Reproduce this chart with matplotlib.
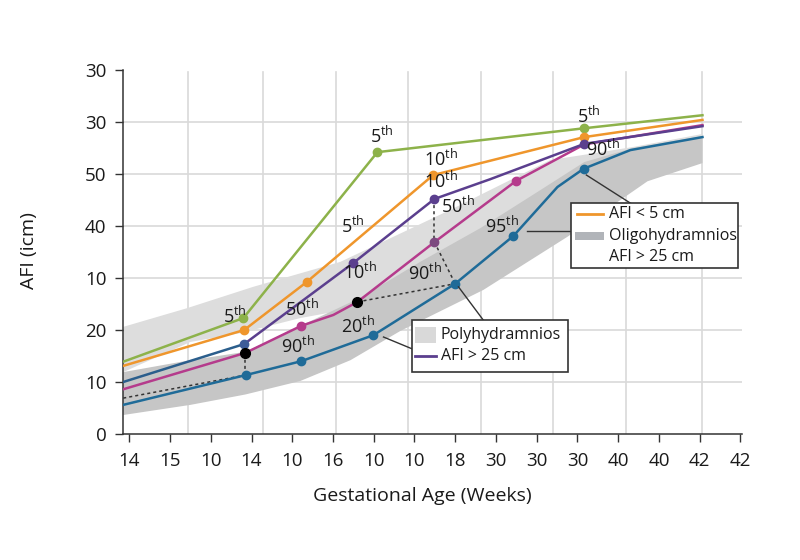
import matplotlib
matplotlib.use("Agg")
import matplotlib.pyplot as plt
from matplotlib.patches import Rectangle
import numpy as np

plt.rcParams['font.family'] = ['Open Sans', 'DejaVu Sans']
plt.rcParams['mathtext.fontset'] = 'custom'
plt.rcParams['mathtext.rm'] = 'Open Sans'
plt.rcParams['mathtext.it'] = 'Open Sans'

# ---------------- data ----------------
x_tick_labels = ["14", "15", "10", "14", "10", "16", "10", "10", "18",
                 "30", "30", "30", "40", "40", "42", "42"]
y_tick_labels = ["0", "10", "20", "10", "40", "50", "30", "30"]

green_x = [-0.15, 2.80, 6.09, 11.17, 14.07]
green_y = [13.9, 22.3, 54.2, 58.8, 61.3]

orange_x = [-0.15, 2.82, 4.35, 7.46, 11.17, 14.07]
orange_y = [13.1, 20.0, 29.2, 49.8, 57.1, 60.4]

upper_blue_x = [-0.15, 2.82]
upper_blue_y = [10.0, 17.3]

purple_x = [2.82, 5.50, 7.49, 8.86, 11.17, 14.07]
purple_y = [17.3, 32.9, 45.2, 49.0, 55.8, 59.2]

magenta_x = [-0.15, 2.85, 4.22, 5.01, 5.60, 7.49, 9.50, 11.17, 14.07]
magenta_y = [8.6, 15.6, 20.8, 22.9, 25.4, 36.9, 48.7, 55.7, 59.4]

blue_x = [-0.15, 2.87, 4.22, 5.99, 8.00, 9.43, 10.51, 11.15, 12.30, 14.07]
blue_y = [5.6, 11.35, 14.0, 19.0, 28.9, 38.1, 47.5, 51.0, 54.6, 57.1]

# band edges (polyhydramnios light band / oligohydramnios darker band)
poly_upper_x = [-0.15, 1.42, 3.04, 5.18, 7.88, 10.34, 11.17, 12.37, 14.07]
poly_upper_y = [20.6, 24.2, 28.3, 33.1, 43.1, 52.7, 53.7, 55.2, 57.7]
poly_lower_x = [-0.15, 1.50, 2.73, 4.20, 6.65, 9.11, 11.56, 14.07]
poly_lower_y = [11.9, 17.7, 19.4, 22.3, 25.8, 35.4, 47.9, 54.6]

oligo_upper_x = [-0.15, 1.50, 2.85, 4.20, 5.67, 7.14, 8.62, 10.09, 11.17, 12.37, 14.07]
oligo_upper_y = [11.9, 14.2, 15.8, 20.8, 26.2, 33.1, 39.6, 46.9, 52.3, 55.0, 57.3]
oligo_lower_x = [-0.15, 1.50, 2.85, 4.20, 5.43, 6.65, 8.69, 10.75, 12.72, 14.07]
oligo_lower_y = [3.65, 5.6, 7.6, 10.2, 14.2, 19.8, 27.7, 37.9, 48.6, 52.1]

# ---------------- figure ----------------
fig = plt.figure(figsize=(8, 5.6), dpi=100)
ax = fig.add_axes([0.154, 0.225, 0.774, 0.65])
ax.set_xlim(-0.15, 15.05)
ax.set_ylim(0, 70)

GREEN = '#8db24a'
ORANGE = '#ef962c'
PURPLE = '#5b3f8e'
MAGENTA = '#b53b8c'
BLUE = '#1f6b98'
UBLUE = '#2b5e8c'
LIGHT = '#dddddd'
DARK = '#c6c6c6'
GRID = '#d9d9d9'

# grid
for yv in range(10, 70, 10):
    ax.axhline(yv, color=GRID, lw=1.2, zorder=0)
for xv in [1.45, 3.27, 5.08, 6.83, 8.64, 10.41, 12.20, 14.07]:
    ax.plot([xv, xv], [0, 69.6], color=GRID, lw=1.2, zorder=0)

# bands
ax.fill(np.concatenate([poly_upper_x, poly_lower_x[::-1]]),
        np.concatenate([poly_upper_y, poly_lower_y[::-1]]),
        color=LIGHT, lw=0, zorder=1)
ax.fill(np.concatenate([oligo_upper_x, oligo_lower_x[::-1]]),
        np.concatenate([oligo_upper_y, oligo_lower_y[::-1]]),
        color=DARK, lw=0, zorder=1)

# dotted connectors
dot_kw = dict(color='#333333', lw=1.1, ls=(0, (2, 2)), zorder=2)
ax.plot([blue_x[0], blue_x[1]], [6.9, blue_y[1]], **dot_kw)
ax.plot([magenta_x[1], magenta_x[1]], [blue_y[1], magenta_y[1]], **dot_kw)
ax.plot([magenta_x[4], blue_x[4]], [magenta_y[4], blue_y[4]], **dot_kw)
ax.plot([purple_x[2], magenta_x[5]], [purple_y[2], magenta_y[5]], **dot_kw)
ax.plot([magenta_x[5], blue_x[4]], [magenta_y[5], blue_y[4]], **dot_kw)

lw = 1.8
ms = 6
ax.plot(green_x, green_y, color=GREEN, lw=lw, zorder=3)
ax.plot(green_x[1:4], green_y[1:4], 'o', color=GREEN, ms=ms, zorder=5)

ax.plot(orange_x, orange_y, color=ORANGE, lw=lw, zorder=3)
ax.plot(orange_x[1:5], orange_y[1:5], 'o', color=ORANGE, ms=ms, zorder=5)

ax.plot(blue_x, blue_y, color=BLUE, lw=lw, zorder=3)
ax.plot(blue_x[1:6] + [blue_x[7]], blue_y[1:6] + [blue_y[7]], 'o', color=BLUE, ms=ms, zorder=5)

ax.plot(magenta_x, magenta_y, color=MAGENTA, lw=lw, zorder=3)
ax.plot([magenta_x[2], magenta_x[6]], [magenta_y[2], magenta_y[6]], 'o', color=MAGENTA, ms=ms, zorder=5)
ax.plot([magenta_x[5]], [magenta_y[5]], 'o', color='#7d4a80', ms=ms, zorder=5)
ax.plot([magenta_x[1], magenta_x[4]], [magenta_y[1], magenta_y[4]], 'o', color='black', ms=ms + 1, zorder=6)

ax.plot(upper_blue_x, upper_blue_y, color=UBLUE, lw=lw, zorder=3)
ax.plot(purple_x, purple_y, color=PURPLE, lw=lw, zorder=4)
ax.plot([purple_x[0]], [purple_y[0]], 'o', color='#3e5c99', ms=ms, zorder=5)
ax.plot([purple_x[1], purple_x[2], purple_x[4]], [purple_y[1], purple_y[2], purple_y[4]],
        'o', color=PURPLE, ms=ms, zorder=5)

# percentile labels
lab_kw = dict(fontsize=13, ha='center', va='center', color='#1a1a1a', zorder=7)
labels = [
    (2.60, 22.6, '5'), (4.25, 24.0, '50'), (4.15, 16.9, '90'),
    (5.50, 40.0, '5'), (5.67, 31.2, '10'), (5.62, 20.8, '20'),
    (7.27, 31.0, '90'), (8.08, 43.8, '50'), (7.64, 48.7, '10'),
    (7.64, 52.9, '10'), (9.16, 40.0, '95'), (6.21, 57.3, '5'),
    (11.27, 61.2, '5'), (11.64, 54.8, '90'),
]
for lx, ly, num in labels:
    ax.text(lx, ly, num + r'$^{\mathrm{th}}$', **lab_kw)

# leader lines
lead_kw = dict(color='#333333', lw=1.0, zorder=6)
ax.plot([11.22, 12.30], [49.8, 44.4], **lead_kw)
ax.plot([9.77, 10.85], [39.0, 39.0], **lead_kw)
ax.plot([8.08, 8.69], [28.3, 21.9], **lead_kw)
ax.plot([6.24, 6.95], [18.65, 16.35], **lead_kw)

# legend box 1
ax.add_patch(Rectangle((10.85, 31.9), 14.93 - 10.85, 44.4 - 31.9, facecolor='white',
                       edgecolor='#333333', lw=1.2, zorder=8))
ax.plot([11.0, 11.64], [42.3, 42.3], color=ORANGE, lw=2, zorder=9)
ax.add_patch(Rectangle((10.95, 37.3), 0.71, 1.55, facecolor='#b1b4b9', lw=0, zorder=9))
tkw = dict(fontsize=11.5, ha='left', va='center', color='#1a1a1a', zorder=9)
ax.text(11.78, 42.3, 'AFI < 5 cm', **tkw)
ax.text(11.78, 38.1, 'Oligohydramnios', **tkw)
ax.text(11.78, 34.0, 'AFI > 25 cm', **tkw)

# legend box 2
ax.add_patch(Rectangle((6.95, 11.9), 10.78 - 6.95, 21.9 - 11.9, facecolor='white',
                       edgecolor='#333333', lw=1.2, zorder=8))
ax.add_patch(Rectangle((7.02, 17.5), 0.52, 3.1, facecolor='#d9d9d9', lw=0, zorder=9))
ax.plot([7.02, 7.52], [15.0, 15.0], color=PURPLE, lw=2, zorder=9)
ax.text(7.64, 19.0, 'Polyhydramnios', **tkw)
ax.text(7.64, 15.0, 'AFI > 25 cm', **tkw)

# axes styling
ax.set_xticks(range(len(x_tick_labels)))
ax.set_xticklabels(x_tick_labels)
ax.set_yticks(range(0, 80, 10))
ax.set_yticklabels(y_tick_labels)
ax.tick_params(axis='both', labelsize=13.5, colors='#333333', labelcolor='#1a1a1a',
               length=6, width=1)
ax.tick_params(axis='x', pad=7)
ax.tick_params(axis='y', pad=6)
for s in ['top', 'right']:
    ax.spines[s].set_visible(False)
for s in ['left', 'bottom']:
    ax.spines[s].set_color('#333333')
    ax.spines[s].set_linewidth(1.1)

ax.set_xlabel('Gestational Age (Weeks)', fontsize=14, color='#1a1a1a')
ax.set_ylabel('AFI (icm)', fontsize=14, color='#1a1a1a')
ax.xaxis.set_label_coords(0.483, -0.145)
ax.yaxis.set_label_coords(-0.137, 0.505)

fig.savefig('out.png', dpi=100)
